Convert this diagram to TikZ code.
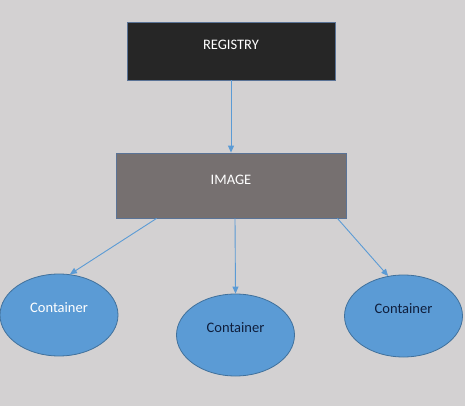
\documentclass[tikz,border=0pt]{standalone}
\usepackage{fontspec}
\setmainfont{Carlito}
\usetikzlibrary{arrows.meta,shapes.geometric}
\definecolor{bg}{HTML}{D3D1D2}
\definecolor{reg}{HTML}{262626}
\definecolor{imgc}{HTML}{767070}
\definecolor{boxline}{HTML}{5A7396}
\definecolor{cfill}{HTML}{5B9BD5}
\definecolor{cline}{HTML}{41719C}
\definecolor{navy}{HTML}{0F1E3C}
\tikzset{
  box/.style={draw=boxline,line width=0.8pt,inner sep=0pt},
  cont/.style={ellipse,draw=cline,line width=0.8pt,fill=cfill,minimum width=118pt,minimum height=82pt,inner sep=0pt},
  lbl/.style={font=\fontsize{14.5}{17}\selectfont},
  conn/.style={draw=cfill,line width=0.9pt,-{Triangle[length=7pt,width=6pt]}}
}
\begin{document}
\begin{tikzpicture}[x=1pt,y=-1pt]
\fill[bg] (0,0) rectangle (465,406);
\useasboundingbox (0,0) rectangle (465,406);
\node[box,fill=reg,minimum width=208pt,minimum height=58pt] (registry) at (231,51) {};
\node[lbl,text=white] (registryt) at (231,45) {REGISTRY};
\node[box,fill=imgc,minimum width=230pt,minimum height=65pt] (image) at (231,185.5) {};
\node[lbl,text=white] (imaget) at (231,180) {IMAGE};
\node[cont] (c1) at (59,315) {};
\node[cont] (c2) at (235.5,335) {};
\node[cont] (c3) at (403.5,316) {};
\node[lbl,text=white] (c1t) at (59,308) {Container};
\node[lbl,text=navy] (c2t) at (235.5,328) {Container};
\node[lbl,text=navy] (c3t) at (403.5,309) {Container};
\draw[conn] (registry.south) -- (image.north);
\draw[conn] ([xshift=41pt]image.south west) -- (c1.75);
\draw[conn] ([xshift=4pt]image.south) -- (c2.north);
\draw[conn] ([xshift=-9pt]image.south east) -- (c3.111);
\end{tikzpicture}
\end{document}
